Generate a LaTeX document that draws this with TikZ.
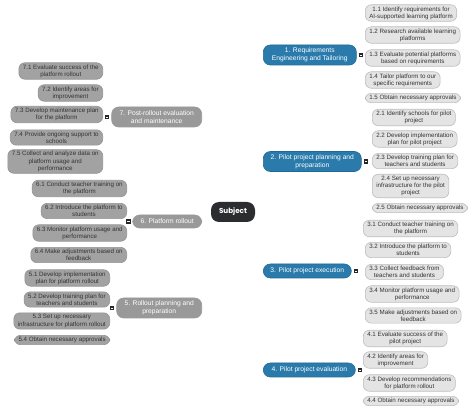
\documentclass[tikz,border=0pt]{standalone}
\usepackage{fontspec}
\setmainfont{Liberation Sans}
\newfontfamily\subjfont{Poppins}
\usetikzlibrary{backgrounds}
\definecolor{blu}{HTML}{2A7BAB}
\definecolor{blud}{HTML}{1F6A96}
\definecolor{rcf}{HTML}{E4E4E4}
\definecolor{rcb}{HTML}{BDBDBD}
\definecolor{lcf}{HTML}{A2A2A2}
\definecolor{lcb}{HTML}{939393}
\definecolor{lmf}{HTML}{999999}
\definecolor{txt}{HTML}{333333}
\definecolor{lnc}{HTML}{C6C6C6}
\definecolor{subjc}{HTML}{2B2D31}
\begin{document}
\begin{tikzpicture}[x=1pt,y=-1pt,
  child/.style={rounded corners=6pt, align=center, font=\fontsize{6.2}{7.1}\selectfont, inner xsep=4pt, inner ysep=1.8pt, line width=0.6pt},
  rc/.style={child, draw=rcb, fill=rcf, text=txt, anchor=west},
  lc/.style={child, draw=lcb, fill=lcf, text=txt, anchor=east},
  mainn/.style={rounded corners=7pt, align=center, font=\fontsize{6.7}{7.7}\selectfont, inner xsep=5pt, inner ysep=2pt, text=white, minimum height=14pt, line width=0.6pt},
  rm/.style={mainn, fill=blu, draw=blud, anchor=west},
  lm/.style={mainn, fill=lmf, draw=lmf, anchor=east},
  mk/.style={fill=black!85, minimum size=4.5pt, inner sep=0pt,
    path picture={\draw[white, line width=0.5pt] ([xshift=1pt]path picture bounding box.west) -- ([xshift=-1pt]path picture bounding box.east);}},
  ln/.style={draw=lnc, line width=0.8pt}
]
\useasboundingbox[fill=white] (0,0) rectangle (474,411);

% center
\node[fill=subjc, text=white, rounded corners=8pt, minimum width=44pt, minimum height=20pt, font=\subjfont\bfseries\fontsize{7.2}{8}\selectfont] (subj) at (233,212) {Subject};

% main nodes
\node[rm, minimum width=93pt, minimum height=20pt] (n1) at (263,55) {1. Requirements\\Engineering and Tailoring};
\node[rm, minimum width=98pt, minimum height=20pt] (n2) at (263,161.5) {2. Pilot project planning and\\preparation};
\node[rm, minimum width=88pt] (n3) at (263,271) {3. Pilot project execution};
\node[rm, minimum width=92pt] (n4) at (263,370) {4. Pilot project evaluation};
\node[lm, minimum width=90pt, minimum height=20pt] (n7) at (202,117) {7. Post-rollout evaluation\\and maintenance};
\node[lm, minimum width=69pt, minimum height=13pt] (n6) at (202,221.5) {6. Platform rollout};
\node[lm, minimum width=85pt, minimum height=20pt] (n5) at (202,308) {5. Rollout planning and\\preparation};

% markers
\node[mk] (m1) at ([xshift=4.5pt]n1.east) {};
\node[mk] (m2) at ([xshift=4.5pt]n2.east) {};
\node[mk] (m3) at ([xshift=4.5pt]n3.east) {};
\node[mk] (m4) at ([xshift=4.5pt]n4.east) {};
\node[mk] (m7) at ([xshift=-4.5pt]n7.west) {};
\node[mk] (m6) at ([xshift=-4pt]n6.west) {};
\node[mk] (m5) at ([xshift=-4.5pt]n5.west) {};

% branch 1
\node[rc] (c11) at (365,13) {1.1 Identify requirements for\\AI-supported learning platform};
\node[rc] (c12) at (365,35) {1.2 Research available learning\\platforms};
\node[rc] (c13) at (365,58) {1.3 Evaluate potential platforms\\based on requirements};
\node[rc] (c14) at (365,80) {1.4 Tailor platform to our\\specific requirements};
\node[rc] (c15) at (365,98) {1.5 Obtain necessary approvals};
% branch 2
\node[rc] (c21) at (372,117.5) {2.1 Identify schools for pilot\\project};
\node[rc] (c22) at (372,139) {2.2 Develop implementation\\plan for pilot project};
\node[rc] (c23) at (372,161) {2.3 Develop training plan for\\teachers and students};
\node[rc] (c24) at (372,186) {2.4 Set up necessary\\infrastructure for the pilot\\project};
\node[rc] (c25) at (372,208) {2.5 Obtain necessary approvals};
% branch 3
\node[rc] (c31) at (363,228.5) {3.1 Conduct teacher training on\\the platform};
\node[rc] (c32) at (365,250) {3.2 Introduce the platform to\\students};
\node[rc] (c33) at (365,272) {3.3 Collect feedback from\\teachers and students};
\node[rc] (c34) at (365,294) {3.4 Monitor platform usage and\\performance};
\node[rc] (c35) at (365,315.5) {3.5 Make adjustments based on\\feedback};
% branch 4
\node[rc] (c41) at (363,338.5) {4.1 Evaluate success of the\\pilot project};
\node[rc] (c42) at (363,360) {4.2 Identify areas for\\improvement};
\node[rc] (c43) at (363,383) {4.3 Develop recommendations\\for platform rollout};
\node[rc] (c44) at (363,401) {4.4 Obtain necessary approvals};
% branch 7
\node[lc] (c71) at (103,71) {7.1 Evaluate success of the\\platform rollout};
\node[lc] (c72) at (103,93) {7.2 Identify areas for\\improvement};
\node[lc] (c73) at (103,114.5) {7.3 Develop maintenance plan\\for the platform};
\node[lc] (c74) at (103,137.5) {7.4 Provide ongoing support to\\schools};
\node[lc] (c75) at (103,161.5) {7.5 Collect and analyze data on\\platform usage and\\performance};
% branch 6
\node[lc] (c61) at (127,188.5) {6.1 Conduct teacher training on\\the platform};
\node[lc] (c62) at (127,211) {6.2 Introduce the platform to\\students};
\node[lc] (c63) at (127,233) {6.3 Monitor platform usage and\\performance};
\node[lc] (c64) at (127,255) {6.4 Make adjustments based on\\feedback};
% branch 5
\node[lc] (c51) at (110,278) {5.1 Develop implementation\\plan for platform rollout};
\node[lc] (c52) at (110,299.5) {5.2 Develop training plan for\\teachers and students};
\node[lc] (c53) at (110,321) {5.3 Set up necessary\\infrastructure for platform rollout};
\node[lc] (c54) at (110,340) {5.4 Obtain necessary approvals};

\begin{scope}[on background layer]
  % subject to main
  \foreach \n in {n1,n2,n3,n4}
    \draw[ln] (subj.center) .. controls (subj.center |- \n.west) .. (\n.west);
  \foreach \n in {n7,n5}
    \draw[ln] (subj.center) .. controls (subj.center |- \n.east) .. (\n.east);
  \draw[ln] (n6.east) -- (n6.east -| subj.center);
  % main to markers
  \foreach \n/\m in {n1/m1,n2/m2,n3/m3,n4/m4}
    \draw[ln] (\n.east) -- (\m);
  \foreach \n/\m in {n7/m7,n6/m6,n5/m5}
    \draw[ln] (\n.west) -- (\m);
  % markers to children
  \foreach \m/\c in {m1/c11,m1/c12,m1/c13,m1/c14,m1/c15,
                     m2/c21,m2/c22,m2/c23,m2/c24,m2/c25,
                     m3/c31,m3/c32,m3/c33,m3/c34,m3/c35,
                     m4/c41,m4/c42,m4/c43,m4/c44}
    \draw[ln] (\m.center) .. controls (\m.center |- \c.west) .. (\c.west);
  \foreach \m/\c in {m7/c71,m7/c72,m7/c73,m7/c74,m7/c75,
                     m6/c61,m6/c62,m6/c63,m6/c64,
                     m5/c51,m5/c52,m5/c53,m5/c54}
    \draw[ln] (\m.center) .. controls (\m.center |- \c.east) .. (\c.east);
\end{scope}
\end{tikzpicture}
\end{document}
